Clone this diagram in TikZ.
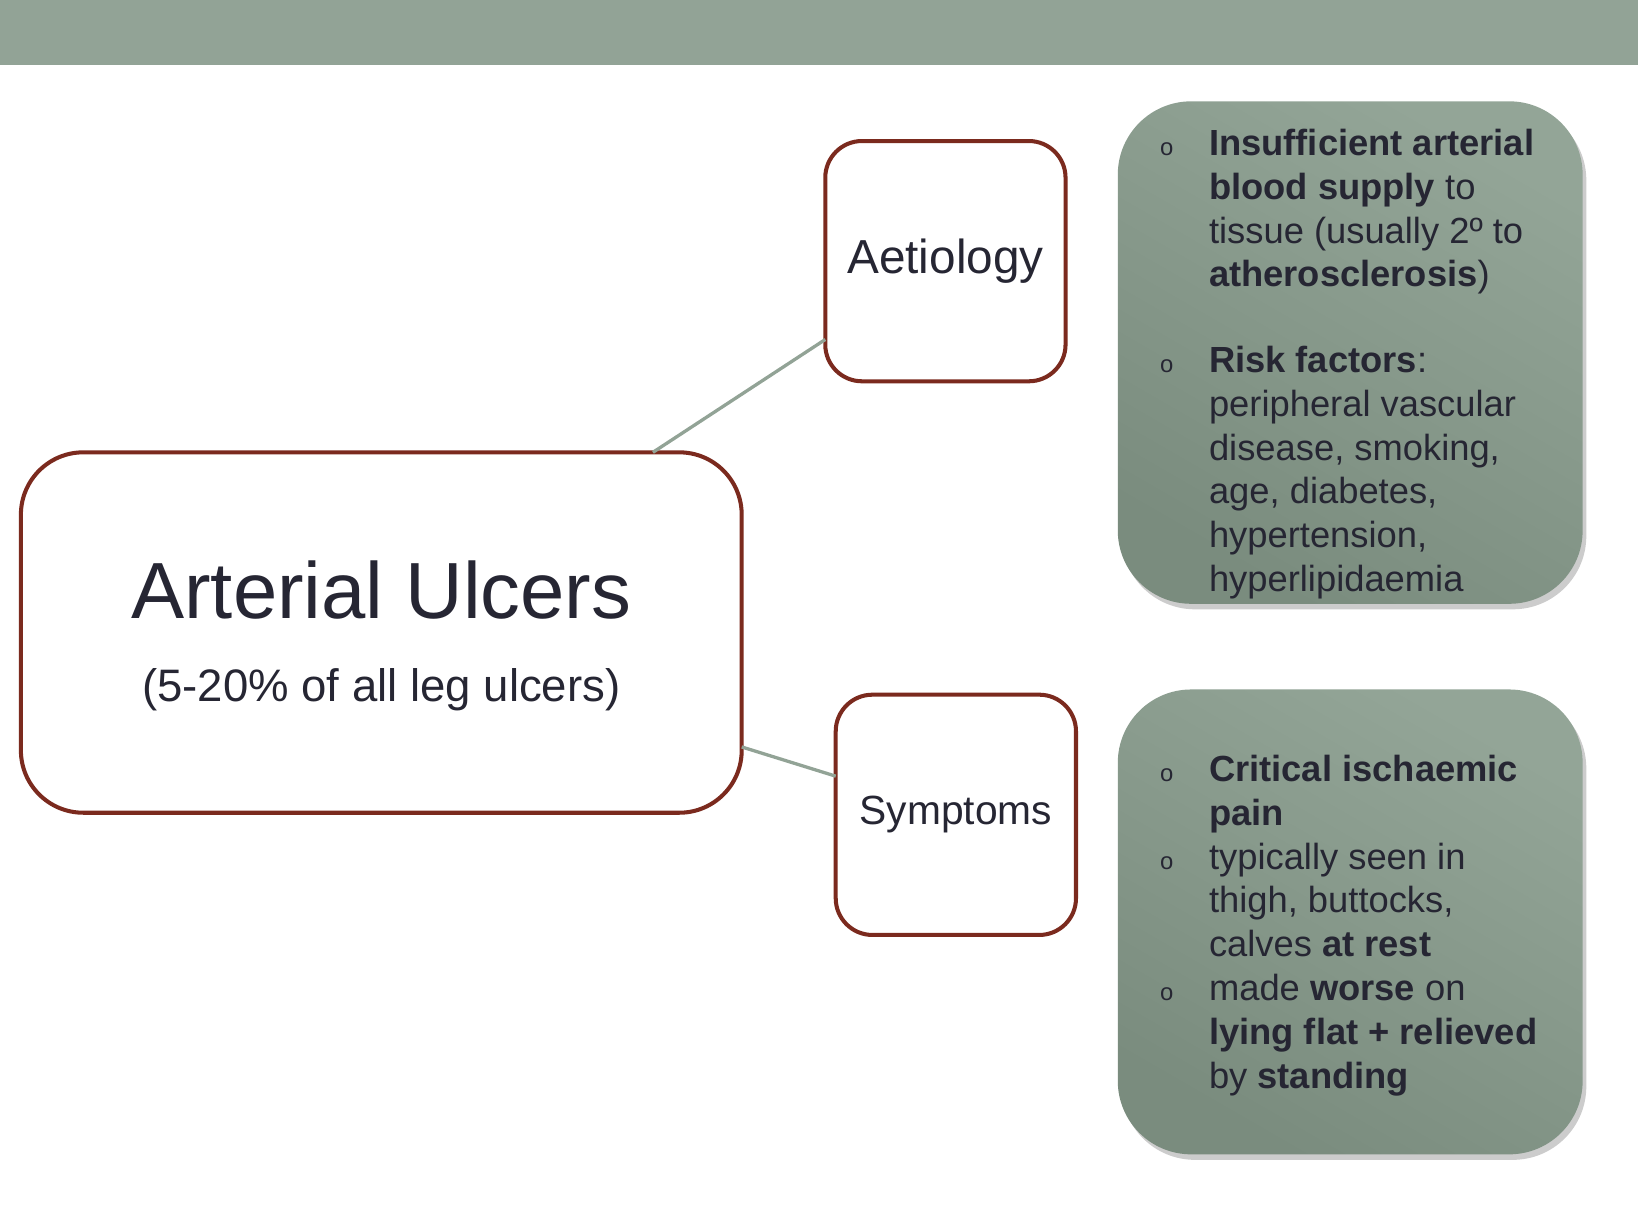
\documentclass[tikz,border=0pt]{standalone}
\usepackage{fontspec}
\setmainfont{Liberation Sans}
\usetikzlibrary{shadows}
\definecolor{bar}{HTML}{92A396}
\definecolor{brd}{HTML}{7B2A1E}
\definecolor{txt}{HTML}{262633}
\definecolor{gA}{HTML}{93A597}
\definecolor{gB}{HTML}{7A8C7E}
\newcommand{\mylines}[1]{\begin{tabular}[t]{@{}l@{}}#1\end{tabular}}
\tikzset{
  box/.style={draw=brd,line width=2.2pt,fill=white,rounded corners=#1},
  panel/.style={rounded corners=40pt,top color=gA,bottom color=gB,shading angle=-30,
     drop shadow={shadow xshift=2pt,shadow yshift=-3pt,opacity=0.4}},
  link/.style={draw=bar,line width=1.8pt},
  btxt/.style={anchor=base west,text=txt,font=\fontsize{19.8}{23.8}\selectfont,inner sep=0pt},
  bul/.style={anchor=base,text=txt,font=\fontsize{13}{13}\selectfont,inner sep=0pt}
}
\begin{document}
\begin{tikzpicture}[x=0.02cm,y=-0.02cm]
\useasboundingbox (0,0) rectangle (1568,1175);
\fill[white] (0,0) rectangle (1568,1175);
\fill[bar] (0,0) rectangle (1568,62);
% main
\draw[box=34pt] (20,433) rectangle (710,778);
\node[text=txt,font=\fontsize{43.4}{43.4}\selectfont] (title) at (365,565) {Arterial Ulcers};
\node[text=txt,font=\fontsize{24.8}{24.8}\selectfont] (sub) at (365,660) {(5-20\% of all leg ulcers)};
\draw[box=20pt] (790,135) rectangle (1020,365);
\node[text=txt,font=\fontsize{26}{26}\selectfont] (aet) at (905,250) {Aetiology};
\draw[box=20pt] (800,665) rectangle (1030,895);
\node[text=txt,font=\fontsize{22.2}{22.2}\selectfont] (sym) at (915,780) {Symptoms};
\coordinate (m1) at (625,433); \coordinate (a1) at (790,325);
\coordinate (m2) at (710,715); \coordinate (s1) at (800,743);
\draw[link] (m1) -- (a1);
\draw[link] (m2) -- (s1);
% panels
\path[panel] (1070,97) rectangle (1515,578);
\path[panel] (1070,660) rectangle (1515,1105);
\node[bul] (b1) at (1117,149) {o};
\node[btxt] (t1) at (1157,149) {\mylines{\textbf{Insufficient arterial}\\\textbf{blood supply} to\\tissue (usually 2º to\\\textbf{atherosclerosis})}};
\node[bul] (b2) at (1117,357) {o};
\node[btxt] (t2) at (1157,357) {\mylines{\textbf{Risk factors}:\\peripheral vascular\\disease, smoking,\\age, diabetes,\\hypertension,\\hyperlipidaemia}};
\node[bul] (b3) at (1117,748) {o};
\node[btxt] (t3) at (1157,748) {\mylines{\textbf{Critical ischaemic}\\\textbf{pain}}};
\node[bul] (b4) at (1117,832) {o};
\node[btxt] (t4) at (1157,832) {\mylines{typically seen in\\thigh, buttocks,\\calves \textbf{at rest}}};
\node[bul] (b5) at (1117,958) {o};
\node[btxt] (t5) at (1157,958) {\mylines{made \textbf{worse} on\\\textbf{lying flat + relieved}\\by \textbf{standing}}};
\end{tikzpicture}
\end{document}
